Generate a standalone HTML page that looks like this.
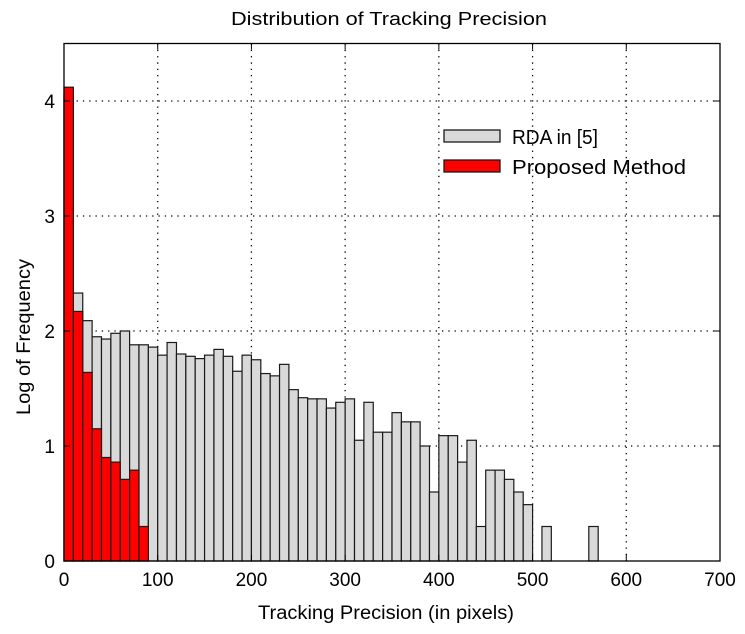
<!DOCTYPE html>
<html><head><meta charset="utf-8"><style>
body{margin:0;background:#fff;}
svg{display:block;font-family:"Liberation Sans",sans-serif;}
</style></head><body>
<svg id="chart" width="745" height="634"></svg>
<script>
const binStarts=[0,10,20,30,40,50,60,70,80,90,100,110,120,130,140,150,160,170,180,190,200,210,220,230,240,250,260,270,280,290,300,310,320,330,340,350,360,370,380,390,400,410,420,430,440,450,460,470,480,490,500,510,520,530,540,550,560];
const rdaValues=[4.05,2.33,2.09,1.95,1.93,1.98,2.00,1.88,1.88,1.86,1.79,1.90,1.80,1.78,1.76,1.79,1.84,1.78,1.65,1.79,1.75,1.63,1.61,1.71,1.49,1.42,1.41,1.41,1.33,1.38,1.41,1.05,1.38,1.12,1.12,1.29,1.21,1.21,1.00,0.60,1.09,1.09,0.86,1.05,0.30,0.79,0.79,0.71,0.60,0.49,0,0.30,0,0,0,0,0.30];
const proposedValues=[4.12,2.17,1.64,1.15,0.90,0.86,0.71,0.79,0.30];
const xTicks=[0,100,200,300,400,500,600,700];
const yTicks=[0,1,2,3,4];
const binWidth=10;
const NS="http://www.w3.org/2000/svg";
const svg=document.getElementById('chart');
const L=64,R=720,T=43.5,B=561;
const xMax=700,yMax=4.5;
const xs=v=>L+(v/xMax)*(R-L);
const ys=v=>B-(v/yMax)*(B-T);
function mk(tag,attrs,parent){const e=document.createElementNS(NS,tag);for(const k in attrs)e.setAttribute(k,attrs[k]);(parent||svg).appendChild(e);return e;}
xTicks.forEach(t=>{if(t>0&&t<xMax){const g=mk('line',{x1:xs(t),x2:xs(t),y1:T,y2:B,stroke:'#000','stroke-width':1.3,'stroke-dasharray':'1.3 5'});

}});
yTicks.forEach(t=>{if(t>0){const g=mk('line',{x1:L,x2:R,y1:ys(t),y2:ys(t),stroke:'#000','stroke-width':1.3,'stroke-dasharray':'1.3 5'});

}});
rdaValues.forEach((v,i)=>{if(v<=0)return;const r=mk('rect',{x:xs(binStarts[i]),y:ys(v),width:xs(binWidth)-xs(0),height:B-ys(v),fill:'#d9d9d9',stroke:'#1a1a1a','stroke-width':1.2});

});
proposedValues.forEach((v,i)=>{const r=mk('rect',{x:xs(binStarts[i]),y:ys(v),width:xs(binWidth)-xs(0),height:B-ys(v),fill:'#ff0000',stroke:'#1a1a1a','stroke-width':1.2});

});
const box=mk('rect',{x:L,y:T,width:R-L,height:B-T,fill:'none',stroke:'#000','stroke-width':1.3});


xTicks.forEach(t=>{mk('line',{x1:xs(t),x2:xs(t),y1:B,y2:B-6,stroke:'#000'});mk('line',{x1:xs(t),x2:xs(t),y1:T,y2:T+6,stroke:'#000'});
const tx=mk('text',{x:xs(t),y:B+25,'text-anchor':'middle','font-size':19,fill:'#000'});tx.textContent=t;

});
yTicks.forEach(t=>{mk('line',{x1:L,x2:L+6,y1:ys(t),y2:ys(t),stroke:'#000'});mk('line',{x1:R,x2:R-6,y1:ys(t),y2:ys(t),stroke:'#000'});
const tx=mk('text',{x:L-9,y:ys(t)+7,'text-anchor':'end','font-size':19,fill:'#000'});tx.textContent=t;

});
</script>
<script>
(function(){
const svg=document.getElementById('chart');const NS="http://www.w3.org/2000/svg";
function t(x,y,s,name,size,extra){const e=document.createElementNS(NS,'text');e.setAttribute('x',x);e.setAttribute('y',y);e.setAttribute('font-size',size);for(const k in (extra||{}))e.setAttribute(k,extra[k]);e.textContent=s;


svg.appendChild(e);return e;}
t(231,25,'Distribution of Tracking Precision','chart-title',18,{textLength:316,lengthAdjust:'spacingAndGlyphs'});
t(258,619,'Tracking Precision (in pixels)','x-axis-title',19,{textLength:256,lengthAdjust:'spacingAndGlyphs'});
t(0,0,'Log of Frequency','y-axis-title',19,{transform:'translate(30,415) rotate(-90)',textLength:156,lengthAdjust:'spacingAndGlyphs'});
function sw(y,fill,name){const r=document.createElementNS(NS,'rect');r.setAttribute('x',444);r.setAttribute('y',y);r.setAttribute('width',56);r.setAttribute('height',12);r.setAttribute('fill',fill);r.setAttribute('stroke','#1a1a1a');r.setAttribute('stroke-width',1.3);


svg.appendChild(r);}
sw(130,'#d9d9d9','legend-swatch-rda');
sw(160,'#ff0000','legend-swatch-proposed');
t(512,144,'RDA in [5]','legend-label-rda',20,{textLength:86,lengthAdjust:'spacingAndGlyphs'});
t(512,174,'Proposed Method','legend-label-proposed',20,{textLength:174,lengthAdjust:'spacingAndGlyphs'});
})();
</script>
</body></html>
